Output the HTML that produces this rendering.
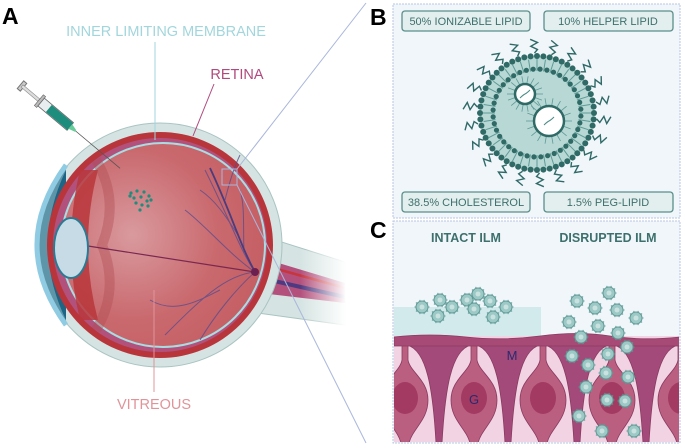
<!DOCTYPE html>
<html><head><meta charset="utf-8"><style>
html,body{margin:0;padding:0;background:#fff;}
svg{display:block;font-family:"Liberation Sans",sans-serif;}
</style></head><body>
<svg id="s" width="685" height="448" viewBox="0 0 685 448" xmlns="http://www.w3.org/2000/svg">
<defs>
<radialGradient id="vit" cx="0.35" cy="0.45" r="0.7">
<stop offset="0" stop-color="#d99a9e"/><stop offset="0.6" stop-color="#c9696e"/><stop offset="1" stop-color="#c45e63"/>
</radialGradient>
<linearGradient id="fade" x1="0" x2="1" y1="0" y2="0">
<stop offset="0" stop-color="#fff" stop-opacity="0"/><stop offset="1" stop-color="#fff" stop-opacity="1"/>
</linearGradient>
<clipPath id="cc"><rect x="394" y="222" width="285" height="220"/></clipPath>
<g id="cell">
<path d="M-35,345 C-10,345 -8,350 -5,360 C0,375 22,380 22,400 C22,420 8,428 3,440 L-3,440 C-8,428 -22,420 -22,400 C-22,380 -0,375 -5,360" fill="none"/>
</g>
</defs>
<!-- Panel borders -->
<rect x="393" y="4" width="287" height="214" fill="#f1f6fb" stroke="#b9c6e0" stroke-dasharray="2,1"/>
<rect x="393" y="221" width="287" height="222" fill="#f1f6fb" stroke="#b9c6e0" stroke-dasharray="2,1"/>
<text x="2" y="24" font-size="23" font-weight="bold">A</text>
<text x="370" y="25" font-size="23" font-weight="bold">B</text>
<text x="370" y="238" font-size="23" font-weight="bold">C</text>

<!-- B labels -->
<g font-size="11" fill="#3d706c" text-anchor="middle" stroke-width="1.3">
<rect x="402" y="11" width="128" height="20" rx="3" fill="#e3eeee" stroke="#5a8f8b"/>
<text x="466" y="25">50% IONIZABLE LIPID</text>
<rect x="544" y="11" width="129" height="20" rx="3" fill="#e3eeee" stroke="#5a8f8b"/>
<text x="608" y="25">10% HELPER LIPID</text>
<rect x="402" y="192" width="128" height="20" rx="3" fill="#e3eeee" stroke="#5a8f8b"/>
<text x="466" y="206">38.5% CHOLESTEROL</text>
<rect x="544" y="192" width="129" height="20" rx="3" fill="#e3eeee" stroke="#5a8f8b"/>
<text x="608" y="206">1.5% PEG-LIPID</text>
</g>
<g id="lnp"></g>

<!-- C panel -->
<text x="466" y="242" font-size="12.5" font-weight="bold" fill="#3d706c" text-anchor="middle">INTACT ILM</text>
<text x="608" y="242" font-size="12.5" font-weight="bold" fill="#3d706c" text-anchor="middle">DISRUPTED ILM</text>
<g clip-path="url(#cc)">
<rect x="394" y="307" width="147" height="30" fill="#d3eaec"/>
<rect x="394" y="336" width="286" height="107" fill="#f1d3e4"/>
<g id="retc"></g>
</g>
<g id="parts"></g>

<!-- Eye -->
<path d="M250,232 L345,262 L345,325 L250,312 Z" fill="#d5e4e2" stroke="#a9c4c2"/>
<path d="M252,255 L345,283 L345,303 L252,292 Z" fill="#b3507c"/>
<path d="M252,262 L345,288" stroke="#c8353c" stroke-width="2.5"/>
<path d="M252,276 L345,297" stroke="#4e3a80" stroke-width="4"/>
<rect x="300" y="250" width="46" height="80" fill="url(#fade)"/>
<circle cx="160" cy="245" r="122" fill="#d5e4e2" stroke="#a9c4c2"/>
<path d="M66,165 Q8,245 66,325" fill="#5f95a8" stroke="#8fcbe2" stroke-width="5"/>
<path d="M66,170 Q30,245 66,320" fill="#1d6585"/>
<circle cx="160" cy="245" r="113" fill="#b8363b"/>
<circle cx="160" cy="245" r="107" fill="#b2527c"/>
<circle cx="163" cy="245" r="102" fill="url(#vit)" stroke="#a8dde2" stroke-width="2"/>
<path d="M80,170 Q62,245 80,320 L98,320 Q78,245 98,170 Z" fill="#b8363b" opacity="0.85"/>
<path d="M96,160 Q120,200 102,245 Q120,290 96,330" fill="none" stroke="#b04a50" stroke-width="10" opacity="0.4"/>
<line x1="88" y1="246" x2="255" y2="272" stroke="#7a2850" stroke-width="1.2"/>
<ellipse cx="71" cy="248" rx="17" ry="30" fill="#c6dbe6" stroke="#2b7a93" stroke-width="2"/>
<g fill="none" stroke="#5b4c8c" stroke-width="1" opacity="0.8">
<path d="M255,272 C240,250 230,220 205,170"/>
<path d="M255,272 C230,255 205,225 185,210"/>
<path d="M238,235 C225,215 215,200 200,190"/>
<path d="M255,272 C225,275 200,300 165,335"/>
<path d="M255,272 C235,290 215,315 200,340"/>
<path d="M220,290 C200,300 175,315 150,300"/>
<path d="M225,200 C230,180 235,165 240,155"/>
<path d="M244,252 C243,230 245,205 240,190"/>
</g>
<path d="M255,272 C240,245 232,215 210,168" fill="none" stroke="#4a3c7e" stroke-width="1.8"/>
<circle cx="255" cy="272" r="4" fill="#6a2050"/>
<rect x="222" y="169" width="15" height="16" fill="none" stroke="#a9b6dc" stroke-width="1"/>
<line x1="237" y1="169" x2="366" y2="3" stroke="#a9b6dc" stroke-width="1"/>
<line x1="237" y1="185" x2="366" y2="443" stroke="#a9b6dc" stroke-width="1"/>
<g fill="#1f8d7d" id="dots"></g>

<!-- syringe -->
<g transform="translate(22,86) rotate(40)">
<rect x="-2" y="-5" width="4" height="10" fill="#ccc" stroke="#777"/>
<rect x="0" y="-1.5" width="22" height="3" fill="#ddd" stroke="#888" stroke-width="0.6"/>
<rect x="22" y="-7" width="3" height="14" fill="#bbb" stroke="#666" stroke-width="0.6"/>
<rect x="25" y="-5" width="38" height="10" fill="#e8eef0" stroke="#666" stroke-width="0.8"/>
<rect x="35" y="-4.5" width="28" height="9" fill="#1f8d7d"/>
<path d="M63,-3 L70,-1 L70,1 L63,3Z" fill="#6c9"/>
<line x1="70" y1="0" x2="128" y2="0" stroke="#555" stroke-width="0.8"/>
</g>

<!-- labels -->
<text x="166" y="36" font-size="14.5" fill="#a2d6dc" text-anchor="middle">INNER LIMITING MEMBRANE</text>
<line x1="155" y1="42" x2="155" y2="140" stroke="#a2d6dc" stroke-width="1"/>
<text x="237" y="79" font-size="14.5" fill="#b04a7e" text-anchor="middle">RETINA</text>
<line x1="214" y1="84" x2="193" y2="136" stroke="#b04a7e" stroke-width="1"/>
<text x="154" y="409" font-size="14.5" fill="#e0949a" text-anchor="middle">VITREOUS</text>
<line x1="154" y1="290" x2="154" y2="392" stroke="#e0949a" stroke-width="1"/>
</svg>
<script>
var NS="http://www.w3.org/2000/svg";
function el(p,t,a){var e=document.createElementNS(NS,t);for(var k in a)e.setAttribute(k,a[k]);p.appendChild(e);return e;}
// eye dots
var d=document.getElementById('dots');
[[131,193],[137,191],[144,192],[149,196],[134,198],[141,197],[147,201],[151,200],[136,203],[142,205],[148,206],[140,210],[130,196]].forEach(function(p){el(d,'circle',{cx:p[0],cy:p[1],r:1.6});});
// LNP
var g=document.getElementById('lnp');var cx=537,cy=113;
el(g,'circle',{cx:cx,cy:cy,r:57,fill:'#b8d8d5'});
for(var i=0;i<40;i++){var a=i/40*Math.PI*2;
 var x1=cx+Math.cos(a)*54,y1=cy+Math.sin(a)*54,x2=cx+Math.cos(a)*42,y2=cy+Math.sin(a)*42;
 el(g,'line',{x1:x1,y1:y1,x2:x2,y2:y2,stroke:'#5e9a95','stroke-width':1});
 el(g,'circle',{cx:cx+Math.cos(a+0.07)*44,cy:cy+Math.sin(a+0.07)*44,r:2.6,fill:'#2f6a66'});}
for(var i=0;i<56;i++){var a=i/56*Math.PI*2;el(g,'circle',{cx:cx+Math.cos(a)*57,cy:cy+Math.sin(a)*57,r:3,fill:'#2f6a66'});}
for(var i=0;i<22;i++){var a=i/22*Math.PI*2+0.1;var r0=60;var pts='M'+(cx+Math.cos(a)*r0)+','+(cy+Math.sin(a)*r0);
 for(var j=1;j<=4;j++){var r=r0+j*3.5,o=(j%2?1:-1)*0.05;pts+=' L'+(cx+Math.cos(a+o)*r)+','+(cy+Math.sin(a+o)*r);}
 el(g,'path',{d:pts,fill:'none',stroke:'#2f6a66','stroke-width':1.4});}
[[525,94,10],[549,121,15]].forEach(function(v){
 for(var i=0;i<18;i++){var a=i/18*Math.PI*2;el(g,'line',{x1:v[0]+Math.cos(a)*v[2],y1:v[1]+Math.sin(a)*v[2],x2:v[0]+Math.cos(a)*(v[2]+8),y2:v[1]+Math.sin(a)*(v[2]+8),stroke:'#5e9a95','stroke-width':0.8});}
 el(g,'circle',{cx:v[0],cy:v[1],r:v[2],fill:'#fff',stroke:'#2f6a66','stroke-width':2.5});
 el(g,'path',{d:'M'+(v[0]-5)+','+(v[1]+4)+' q3,-3 5,-4 t5,-4',fill:'none',stroke:'#4a8a85','stroke-width':1});});
// retina cells
var rc=document.getElementById('retc');
var G=[405,474,543,612,681],M=[439,508,577,646];
M.forEach(function(m){el(rc,'path',{d:'M'+(m-32)+',345 C'+(m-12)+',350 '+(m-6)+',390 '+(m-3)+',443 L'+(m+3)+',443 C'+(m+6)+',390 '+(m+12)+',350 '+(m+32)+',345 Z',fill:'#a34a7a',stroke:'#8a3a60','stroke-width':0.8});});
G.forEach(function(x){
 el(rc,'path',{d:'M'+(x-3)+',345 L'+(x-3)+',360 C'+(x-5)+',372 '+(x-23)+',380 '+(x-23)+',400 C'+(x-23)+',420 '+(x-8)+',428 '+(x-4)+',443 L'+(x+4)+',443 C'+(x+8)+',428 '+(x+23)+',420 '+(x+23)+',400 C'+(x+23)+',380 '+(x+5)+',372 '+(x+3)+',360 L'+(x+3)+',345 Z',fill:'#bb5f80',stroke:'#8a3a60','stroke-width':0.8});
 el(rc,'ellipse',{cx:x,cy:398,rx:13,ry:16,fill:'#a33a62'});});
el(rc,'path',{d:'M394,337 Q430,333 466,337 T540,336 T610,336 T680,337 L680,346 L394,346 Z',fill:'#a84a76',stroke:'#8a3a60','stroke-width':0.8});
el(rc,'text',{x:474,y:404,'font-size':13,fill:'#2a2a70','text-anchor':'middle'}).textContent='G';
el(rc,'text',{x:512,y:360,'font-size':13,fill:'#2a2a70','text-anchor':'middle'}).textContent='M';
var pp=document.getElementById('parts');
[[422,307],[440,300],[438,316],[452,307],[467,300],[478,294],[474,309],[490,301],[493,317],[506,307],
[577,301],[609,293],[595,308],[617,310],[636,318],[569,322],[598,326],[618,333],[581,337],[627,347],[572,356],[608,354],[588,365],[606,373],[628,377],[586,387],[607,400],[625,401],[579,416],[602,431],[634,431]].forEach(function(p){
 for(var i=0;i<10;i++){var a=i/10*Math.PI*2;el(pp,'line',{x1:p[0]+Math.cos(a)*5,y1:p[1]+Math.sin(a)*5,x2:p[0]+Math.cos(a)*7.5,y2:p[1]+Math.sin(a)*7.5,stroke:'#5e9a95','stroke-width':1});}
 el(pp,'circle',{cx:p[0],cy:p[1],r:6,fill:'#9cc8c5',stroke:'#5e9a95','stroke-width':1});
 el(pp,'circle',{cx:p[0],cy:p[1],r:2.5,fill:'#c9e2e0'});});
</script>
</body></html>
